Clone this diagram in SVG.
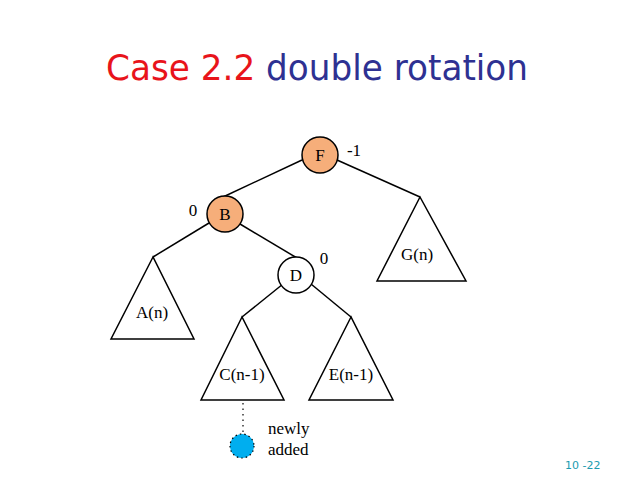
<svg xmlns="http://www.w3.org/2000/svg" width="638" height="478" viewBox="0 0 638 478">
<style>
.t{font-family:"Liberation Serif",serif;font-size:17px;fill:#000}
.e{stroke:#000;stroke-width:1.5;fill:none}
.tri{stroke:#000;stroke-width:1.5;fill:#fff}
.n{stroke:#000;stroke-width:1.5}
</style>
<rect width="638" height="478" fill="#fff"/>
<text x="106" y="80" font-family="DejaVu Sans,sans-serif" font-size="36" textLength="422" lengthAdjust="spacingAndGlyphs"><tspan fill="#e8141b">Case 2.2</tspan><tspan fill="#2e3192"> double rotation</tspan></text>
<g id="connectors">
<line class="e" x1="302" y1="160" x2="223" y2="197"/>
<line class="e" x1="337" y1="160" x2="420" y2="197"/>
<line class="e" x1="209" y1="223" x2="153" y2="257"/>
<line class="e" x1="240" y1="224" x2="297" y2="258"/>
<line class="e" x1="283" y1="284" x2="242" y2="317"/>
<line class="e" x1="311" y1="284" x2="351" y2="317"/>
<line x1="243" y1="403" x2="243" y2="436" stroke="#000" stroke-width="1.2" stroke-dasharray="1.5,4"/>
</g>
<g id="G"><polygon class="tri" points="420,197 377,281 466,281"/><text class="t" x="417" y="260" text-anchor="middle">G(n)</text></g>
<g id="A"><polygon class="tri" points="153,257 111,339 194,339"/><text class="t" x="152" y="318" text-anchor="middle">A(n)</text></g>
<g id="C"><polygon class="tri" points="242,317 201,400 284,400"/><text class="t" x="242" y="380" text-anchor="middle">C(n-1)</text></g>
<g id="E"><polygon class="tri" points="351,317 309,400 393,400"/><text class="t" x="351" y="380" text-anchor="middle">E(n-1)</text></g>
<g id="F"><circle class="n" cx="320" cy="155" r="18" fill="#f6ae7a"/><text class="t" x="320" y="161" text-anchor="middle">F</text><text class="t" x="354" y="156" text-anchor="middle">-1</text></g>
<g id="B"><circle class="n" cx="225" cy="214" r="18" fill="#f6ae7a"/><text class="t" x="225" y="220" text-anchor="middle">B</text><text class="t" x="193" y="216" text-anchor="middle">0</text></g>
<g id="D"><circle class="n" cx="296" cy="275" r="18" fill="#fff"/><text class="t" x="296" y="281" text-anchor="middle">D</text><text class="t" x="324" y="264" text-anchor="middle">0</text></g>
<g id="new"><circle cx="242" cy="446" r="12" fill="#00aeef" stroke="#000" stroke-width="1.2" stroke-dasharray="1.5,3"/><text class="t" x="268" y="434">newly</text><text class="t" x="268" y="455">added</text></g>
<text x="565" y="469" font-family="DejaVu Sans,sans-serif" font-size="11" fill="#1a9bb0">10 -22</text>
</svg>
